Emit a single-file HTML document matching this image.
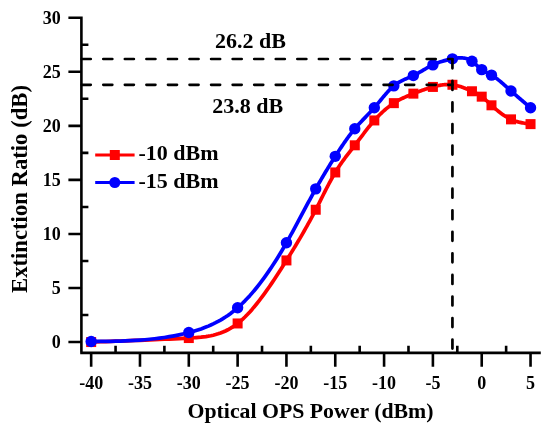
<!DOCTYPE html><html><head><meta charset="utf-8"><style>html,body{margin:0;padding:0;background:#fff;}svg{display:block;}text{font-family:"Liberation Serif","Times New Roman",serif;font-weight:bold;fill:#000;}</style></head><body>
<svg width="550" height="433" viewBox="0 0 550 433">
<rect width="550" height="433" fill="#fff"/>
<path d="M91.16 342.05 L96.04 341.88 L100.92 341.71 L105.81 341.54 L110.69 341.37 L115.57 341.20 L120.45 341.02 L125.33 340.84 L130.22 340.66 L135.10 340.47 L139.98 340.28 L144.86 340.09 L149.74 339.89 L154.63 339.68 L159.51 339.47 L164.39 339.25 L169.27 339.03 L174.15 338.80 L179.04 338.56 L183.92 338.31 L188.80 338.05 L191.24 337.92 L193.68 337.77 L196.12 337.61 L198.56 337.41 L201.01 337.19 L203.45 336.91 L205.89 336.58 L208.33 336.19 L210.77 335.73 L213.21 335.18 L215.65 334.55 L218.09 333.82 L220.53 332.99 L222.97 332.04 L225.42 330.97 L227.86 329.76 L230.30 328.42 L232.74 326.93 L235.18 325.27 L237.62 323.46 L240.06 321.47 L242.50 319.31 L244.94 316.99 L247.38 314.52 L249.83 311.91 L252.27 309.16 L254.71 306.28 L257.15 303.28 L259.59 300.16 L262.03 296.93 L264.47 293.61 L266.91 290.19 L269.35 286.69 L271.79 283.11 L274.24 279.46 L276.68 275.75 L279.12 271.98 L281.56 268.17 L284.00 264.32 L286.44 260.43 L287.90 258.09 L289.37 255.74 L290.83 253.37 L292.30 250.99 L293.76 248.60 L295.23 246.18 L296.69 243.75 L298.16 241.30 L299.62 238.83 L301.09 236.34 L302.55 233.81 L304.02 231.27 L305.48 228.69 L306.94 226.09 L308.41 223.45 L309.87 220.78 L311.34 218.07 L312.80 215.33 L314.27 212.55 L315.73 209.74 L316.71 207.83 L317.68 205.92 L318.66 203.99 L319.64 202.05 L320.61 200.11 L321.59 198.16 L322.57 196.22 L323.54 194.28 L324.52 192.35 L325.50 190.42 L326.47 188.51 L327.45 186.62 L328.43 184.74 L329.40 182.89 L330.38 181.07 L331.35 179.27 L332.33 177.51 L333.31 175.78 L334.28 174.09 L335.26 172.44 L336.24 170.84 L337.21 169.27 L338.19 167.75 L339.17 166.27 L340.14 164.82 L341.12 163.40 L342.09 162.00 L343.07 160.64 L344.05 159.30 L345.02 157.98 L346.00 156.67 L346.98 155.38 L347.95 154.11 L348.93 152.84 L349.91 151.59 L350.88 150.33 L351.86 149.08 L352.84 147.83 L353.81 146.57 L354.79 145.31 L355.76 144.04 L356.74 142.76 L357.72 141.47 L358.69 140.19 L359.67 138.90 L360.65 137.61 L361.62 136.32 L362.60 135.03 L363.58 133.75 L364.55 132.47 L365.53 131.21 L366.50 129.95 L367.48 128.70 L368.46 127.47 L369.43 126.25 L370.41 125.05 L371.39 123.87 L372.36 122.70 L373.34 121.56 L374.32 120.44 L375.29 119.35 L376.27 118.28 L377.25 117.24 L378.22 116.22 L379.20 115.23 L380.17 114.25 L381.15 113.31 L382.13 112.39 L383.10 111.49 L384.08 110.61 L385.06 109.76 L386.03 108.94 L387.01 108.13 L387.99 107.35 L388.96 106.59 L389.94 105.86 L390.91 105.15 L391.89 104.46 L392.87 103.79 L393.84 103.15 L394.82 102.53 L395.80 101.93 L396.77 101.35 L397.75 100.78 L398.73 100.24 L399.70 99.72 L400.68 99.21 L401.66 98.71 L402.63 98.23 L403.61 97.77 L404.58 97.32 L405.56 96.87 L406.54 96.44 L407.51 96.02 L408.49 95.61 L409.47 95.20 L410.44 94.80 L411.42 94.41 L412.40 94.02 L413.37 93.64 L414.35 93.25 L415.32 92.88 L416.30 92.50 L417.28 92.13 L418.25 91.76 L419.23 91.40 L420.21 91.04 L421.18 90.68 L422.16 90.34 L423.14 89.99 L424.11 89.65 L425.09 89.32 L426.07 89.00 L427.04 88.68 L428.02 88.37 L428.99 88.07 L429.97 87.77 L430.95 87.48 L431.92 87.20 L432.90 86.93 L433.88 86.67 L434.85 86.42 L435.83 86.18 L436.81 85.95 L437.78 85.74 L438.76 85.54 L439.73 85.35 L440.71 85.18 L441.69 85.03 L442.66 84.89 L443.64 84.78 L444.62 84.68 L445.59 84.61 L446.57 84.56 L447.55 84.53 L448.52 84.53 L449.50 84.55 L450.48 84.59 L451.45 84.67 L452.43 84.77 L453.40 84.90 L454.38 85.06 L455.36 85.25 L456.33 85.46 L457.31 85.70 L458.29 85.96 L459.26 86.24 L460.24 86.54 L461.22 86.86 L462.19 87.20 L463.17 87.55 L464.14 87.92 L465.12 88.31 L466.10 88.70 L467.07 89.11 L468.05 89.52 L469.03 89.95 L470.00 90.38 L470.98 90.82 L471.96 91.26 L472.44 91.48 L472.93 91.70 L473.42 91.93 L473.91 92.16 L474.40 92.39 L474.89 92.63 L475.37 92.87 L475.86 93.11 L476.35 93.36 L476.84 93.62 L477.33 93.88 L477.81 94.15 L478.30 94.43 L478.79 94.72 L479.28 95.02 L479.77 95.32 L480.26 95.64 L480.74 95.97 L481.23 96.31 L481.72 96.66 L482.21 97.03 L482.70 97.40 L483.18 97.79 L483.67 98.19 L484.16 98.60 L484.65 99.02 L485.14 99.44 L485.63 99.87 L486.11 100.31 L486.60 100.76 L487.09 101.20 L487.58 101.66 L488.07 102.11 L488.55 102.57 L489.04 103.03 L489.53 103.49 L490.02 103.94 L490.51 104.40 L491.00 104.86 L491.48 105.31 L492.46 106.21 L493.44 107.09 L494.41 107.95 L495.39 108.80 L496.37 109.63 L497.34 110.44 L498.32 111.23 L499.30 112.00 L500.27 112.75 L501.25 113.48 L502.22 114.18 L503.20 114.87 L504.18 115.52 L505.15 116.15 L506.13 116.76 L507.11 117.34 L508.08 117.89 L509.06 118.41 L510.04 118.90 L511.01 119.36 L512.04 119.82 L513.07 120.24 L514.10 120.63 L515.12 120.99 L516.15 121.32 L517.18 121.62 L518.21 121.91 L519.23 122.17 L520.26 122.41 L521.29 122.63 L522.32 122.84 L523.35 123.03 L524.37 123.21 L525.40 123.38 L526.43 123.54 L527.46 123.69 L528.48 123.84 L529.51 123.98 L530.54 124.12" fill="none" stroke="#f00" stroke-width="3.7" stroke-linejoin="round"/>
<path d="M91.16 341.51 L96.04 341.47 L100.92 341.42 L105.81 341.37 L110.69 341.29 L115.57 341.19 L120.45 341.06 L125.33 340.89 L130.22 340.68 L135.10 340.42 L139.98 340.10 L144.86 339.72 L149.74 339.28 L154.63 338.76 L159.51 338.16 L164.39 337.47 L169.27 336.70 L174.15 335.82 L179.04 334.84 L183.92 333.75 L188.80 332.54 L191.24 331.89 L193.68 331.20 L196.12 330.47 L198.56 329.70 L201.01 328.89 L203.45 328.02 L205.89 327.09 L208.33 326.10 L210.77 325.04 L213.21 323.91 L215.65 322.71 L218.09 321.43 L220.53 320.06 L222.97 318.61 L225.42 317.06 L227.86 315.42 L230.30 313.67 L232.74 311.82 L235.18 309.86 L237.62 307.78 L240.06 305.59 L242.50 303.27 L244.94 300.84 L247.38 298.30 L249.83 295.64 L252.27 292.86 L254.71 289.98 L257.15 286.98 L259.59 283.87 L262.03 280.66 L264.47 277.34 L266.91 273.91 L269.35 270.37 L271.79 266.74 L274.24 263.00 L276.68 259.16 L279.12 255.22 L281.56 251.18 L284.00 247.05 L286.44 242.81 L287.90 240.23 L289.37 237.61 L290.83 234.97 L292.30 232.30 L293.76 229.61 L295.23 226.91 L296.69 224.18 L298.16 221.45 L299.62 218.71 L301.09 215.96 L302.55 213.21 L304.02 210.46 L305.48 207.71 L306.94 204.97 L308.41 202.24 L309.87 199.53 L311.34 196.83 L312.80 194.15 L314.27 191.50 L315.73 188.87 L316.71 187.14 L317.68 185.41 L318.66 183.70 L319.64 182.01 L320.61 180.32 L321.59 178.65 L322.57 176.98 L323.54 175.33 L324.52 173.69 L325.50 172.07 L326.47 170.45 L327.45 168.84 L328.43 167.24 L329.40 165.66 L330.38 164.08 L331.35 162.51 L332.33 160.96 L333.31 159.41 L334.28 157.87 L335.26 156.33 L336.24 154.81 L337.21 153.30 L338.19 151.79 L339.17 150.30 L340.14 148.82 L341.12 147.35 L342.09 145.90 L343.07 144.47 L344.05 143.04 L345.02 141.64 L346.00 140.26 L346.98 138.89 L347.95 137.54 L348.93 136.22 L349.91 134.92 L350.88 133.64 L351.86 132.38 L352.84 131.15 L353.81 129.95 L354.79 128.77 L355.76 127.62 L356.74 126.50 L357.72 125.39 L358.69 124.31 L359.67 123.25 L360.65 122.20 L361.62 121.17 L362.60 120.14 L363.58 119.13 L364.55 118.11 L365.53 117.10 L366.50 116.09 L367.48 115.08 L368.46 114.06 L369.43 113.03 L370.41 112.00 L371.39 110.95 L372.36 109.88 L373.34 108.79 L374.32 107.69 L375.29 106.56 L376.27 105.41 L377.25 104.25 L378.22 103.08 L379.20 101.89 L380.17 100.71 L381.15 99.52 L382.13 98.34 L383.10 97.16 L384.08 96.00 L385.06 94.85 L386.03 93.72 L387.01 92.62 L387.99 91.54 L388.96 90.49 L389.94 89.48 L390.91 88.50 L391.89 87.57 L392.87 86.69 L393.84 85.85 L394.82 85.07 L395.80 84.34 L396.77 83.66 L397.75 83.02 L398.73 82.42 L399.70 81.85 L400.68 81.32 L401.66 80.81 L402.63 80.33 L403.61 79.87 L404.58 79.43 L405.56 79.00 L406.54 78.58 L407.51 78.16 L408.49 77.75 L409.47 77.33 L410.44 76.91 L411.42 76.48 L412.40 76.04 L413.37 75.58 L414.35 75.11 L415.32 74.61 L416.30 74.10 L417.28 73.57 L418.25 73.03 L419.23 72.48 L420.21 71.92 L421.18 71.36 L422.16 70.79 L423.14 70.22 L424.11 69.65 L425.09 69.09 L426.07 68.52 L427.04 67.97 L428.02 67.42 L428.99 66.88 L429.97 66.36 L430.95 65.85 L431.92 65.36 L432.90 64.88 L433.88 64.43 L434.85 63.99 L435.83 63.58 L436.81 63.18 L437.78 62.81 L438.76 62.45 L439.73 62.10 L440.71 61.78 L441.69 61.46 L442.66 61.17 L443.64 60.88 L444.62 60.61 L445.59 60.35 L446.57 60.11 L447.55 59.87 L448.52 59.64 L449.50 59.43 L450.48 59.22 L451.45 59.02 L452.43 58.83 L453.40 58.64 L454.38 58.47 L455.36 58.31 L456.33 58.17 L457.31 58.05 L458.29 57.95 L459.26 57.88 L460.24 57.85 L461.22 57.85 L462.19 57.89 L463.17 57.98 L464.14 58.11 L465.12 58.29 L466.10 58.53 L467.07 58.83 L468.05 59.19 L469.03 59.61 L470.00 60.10 L470.98 60.67 L471.96 61.31 L472.44 61.67 L472.93 62.04 L473.42 62.42 L473.91 62.82 L474.40 63.23 L474.89 63.66 L475.37 64.09 L475.86 64.53 L476.35 64.97 L476.84 65.42 L477.33 65.87 L477.81 66.32 L478.30 66.76 L478.79 67.20 L479.28 67.63 L479.77 68.06 L480.26 68.47 L480.74 68.88 L481.23 69.27 L481.72 69.64 L482.21 69.99 L482.70 70.33 L483.18 70.65 L483.67 70.96 L484.16 71.26 L484.65 71.55 L485.14 71.82 L485.63 72.09 L486.11 72.35 L486.60 72.61 L487.09 72.86 L487.58 73.11 L488.07 73.35 L488.55 73.60 L489.04 73.85 L489.53 74.10 L490.02 74.35 L490.51 74.61 L491.00 74.88 L491.48 75.15 L492.46 75.73 L493.44 76.34 L494.41 76.98 L495.39 77.66 L496.37 78.36 L497.34 79.09 L498.32 79.85 L499.30 80.63 L500.27 81.43 L501.25 82.25 L502.22 83.08 L503.20 83.92 L504.18 84.78 L505.15 85.65 L506.13 86.53 L507.11 87.41 L508.08 88.29 L509.06 89.17 L510.04 90.05 L511.01 90.93 L512.04 91.85 L513.07 92.77 L514.10 93.67 L515.12 94.58 L516.15 95.47 L517.18 96.36 L518.21 97.25 L519.23 98.14 L520.26 99.02 L521.29 99.89 L522.32 100.77 L523.35 101.64 L524.37 102.51 L525.40 103.37 L526.43 104.24 L527.46 105.10 L528.48 105.97 L529.51 106.83 L530.54 107.69" fill="none" stroke="#00f" stroke-width="3.7" stroke-linejoin="round"/>
<rect x="86.16" y="337.05" width="10" height="10" fill="#f00"/>
<rect x="183.80" y="333.05" width="10" height="10" fill="#f00"/>
<rect x="232.62" y="318.46" width="10" height="10" fill="#f00"/>
<rect x="281.44" y="255.43" width="10" height="10" fill="#f00"/>
<rect x="310.73" y="204.74" width="10" height="10" fill="#f00"/>
<rect x="330.26" y="167.44" width="10" height="10" fill="#f00"/>
<rect x="349.79" y="140.31" width="10" height="10" fill="#f00"/>
<rect x="369.32" y="115.44" width="10" height="10" fill="#f00"/>
<rect x="388.84" y="98.15" width="10" height="10" fill="#f00"/>
<rect x="408.37" y="88.64" width="10" height="10" fill="#f00"/>
<rect x="427.90" y="81.93" width="10" height="10" fill="#f00"/>
<rect x="447.43" y="79.77" width="10" height="10" fill="#f00"/>
<rect x="466.96" y="86.26" width="10" height="10" fill="#f00"/>
<rect x="476.72" y="91.66" width="10" height="10" fill="#f00"/>
<rect x="486.48" y="100.31" width="10" height="10" fill="#f00"/>
<rect x="506.01" y="114.36" width="10" height="10" fill="#f00"/>
<rect x="525.54" y="119.12" width="10" height="10" fill="#f00"/>
<circle cx="91.16" cy="341.51" r="5.7" fill="#00f"/>
<circle cx="188.80" cy="332.54" r="5.7" fill="#00f"/>
<circle cx="237.62" cy="307.78" r="5.7" fill="#00f"/>
<circle cx="286.44" cy="242.81" r="5.7" fill="#00f"/>
<circle cx="315.73" cy="188.87" r="5.7" fill="#00f"/>
<circle cx="335.26" cy="156.33" r="5.7" fill="#00f"/>
<circle cx="354.79" cy="128.77" r="5.7" fill="#00f"/>
<circle cx="374.32" cy="107.69" r="5.7" fill="#00f"/>
<circle cx="393.84" cy="85.85" r="5.7" fill="#00f"/>
<circle cx="413.37" cy="75.58" r="5.7" fill="#00f"/>
<circle cx="432.90" cy="64.88" r="5.7" fill="#00f"/>
<circle cx="452.43" cy="58.83" r="5.7" fill="#00f"/>
<circle cx="471.96" cy="61.31" r="5.7" fill="#00f"/>
<circle cx="481.72" cy="69.64" r="5.7" fill="#00f"/>
<circle cx="491.48" cy="75.15" r="5.7" fill="#00f"/>
<circle cx="511.01" cy="90.93" r="5.7" fill="#00f"/>
<circle cx="530.54" cy="107.69" r="5.7" fill="#00f"/>
<path d="M81.40 16.55 V352.86 M80.20 352.86 H540.79 M68.40 342.05 H81.40 M68.40 288.00 H81.40 M68.40 233.95 H81.40 M68.40 179.90 H81.40 M68.40 125.85 H81.40 M68.40 71.80 H81.40 M68.40 17.75 H81.40 M81.40 315.03 H88.40 M81.40 260.98 H88.40 M81.40 206.93 H88.40 M81.40 152.88 H88.40 M81.40 98.82 H88.40 M81.40 44.77 H88.40 M91.16 352.86 V366.86 M139.98 352.86 V366.86 M188.80 352.86 V366.86 M237.62 352.86 V366.86 M286.44 352.86 V366.86 M335.26 352.86 V366.86 M384.08 352.86 V366.86 M432.90 352.86 V366.86 M481.72 352.86 V366.86 M530.54 352.86 V366.86 M115.57 352.86 V345.86 M164.39 352.86 V345.86 M213.21 352.86 V345.86 M262.03 352.86 V345.86 M310.85 352.86 V345.86 M359.67 352.86 V345.86 M408.49 352.86 V345.86 M457.31 352.86 V345.86 M506.13 352.86 V345.86" fill="none" stroke="#000" stroke-width="2.6" stroke-linecap="butt"/>
<path d="M81.75 58.98 H452.43 M81.75 84.87 H452.43" fill="none" stroke="#000" stroke-width="2.7" stroke-linecap="round" stroke-dasharray="9 12.56"/>
<path d="M452.43 59.33 V352.86" fill="none" stroke="#000" stroke-width="2.7" stroke-linecap="round" stroke-dasharray="9 12.56"/>
<text x="60.8" y="348.35" font-size="18" text-anchor="end">0</text>
<text x="60.8" y="294.30" font-size="18" text-anchor="end">5</text>
<text x="60.8" y="240.25" font-size="18" text-anchor="end">10</text>
<text x="60.8" y="186.20" font-size="18" text-anchor="end">15</text>
<text x="60.8" y="132.15" font-size="18" text-anchor="end">20</text>
<text x="60.8" y="78.10" font-size="18" text-anchor="end">25</text>
<text x="60.8" y="24.05" font-size="18" text-anchor="end">30</text>
<text x="91.16" y="388.5" font-size="18" text-anchor="middle">-40</text>
<text x="139.98" y="388.5" font-size="18" text-anchor="middle">-35</text>
<text x="188.80" y="388.5" font-size="18" text-anchor="middle">-30</text>
<text x="237.62" y="388.5" font-size="18" text-anchor="middle">-25</text>
<text x="286.44" y="388.5" font-size="18" text-anchor="middle">-20</text>
<text x="335.26" y="388.5" font-size="18" text-anchor="middle">-15</text>
<text x="384.08" y="388.5" font-size="18" text-anchor="middle">-10</text>
<text x="432.90" y="388.5" font-size="18" text-anchor="middle">-5</text>
<text x="481.72" y="388.5" font-size="18" text-anchor="middle">0</text>
<text x="530.54" y="388.5" font-size="18" text-anchor="middle">5</text>
<text x="310.5" y="418" font-size="21.8" text-anchor="middle">Optical OPS Power (dBm)</text>
<text transform="translate(27 189) rotate(-90)" font-size="22.7" text-anchor="middle">Extinction Ratio (dB)</text>
<text x="215" y="47.8" font-size="22">26.2 dB</text>
<text x="212.3" y="113.3" font-size="22">23.8 dB</text>
<path d="M95.2 155 H134.6" stroke="#f00" stroke-width="3.2"/>
<rect x="109.8" y="150" width="10" height="10" fill="#f00"/>
<path d="M95.2 182.5 H134.6" stroke="#00f" stroke-width="3.2"/>
<circle cx="114.8" cy="182.5" r="5.5" fill="#00f"/>
<text x="138.5" y="160.2" font-size="22">-10 dBm</text>
<text x="138.5" y="187.7" font-size="22">-15 dBm</text>
</svg></body></html>
